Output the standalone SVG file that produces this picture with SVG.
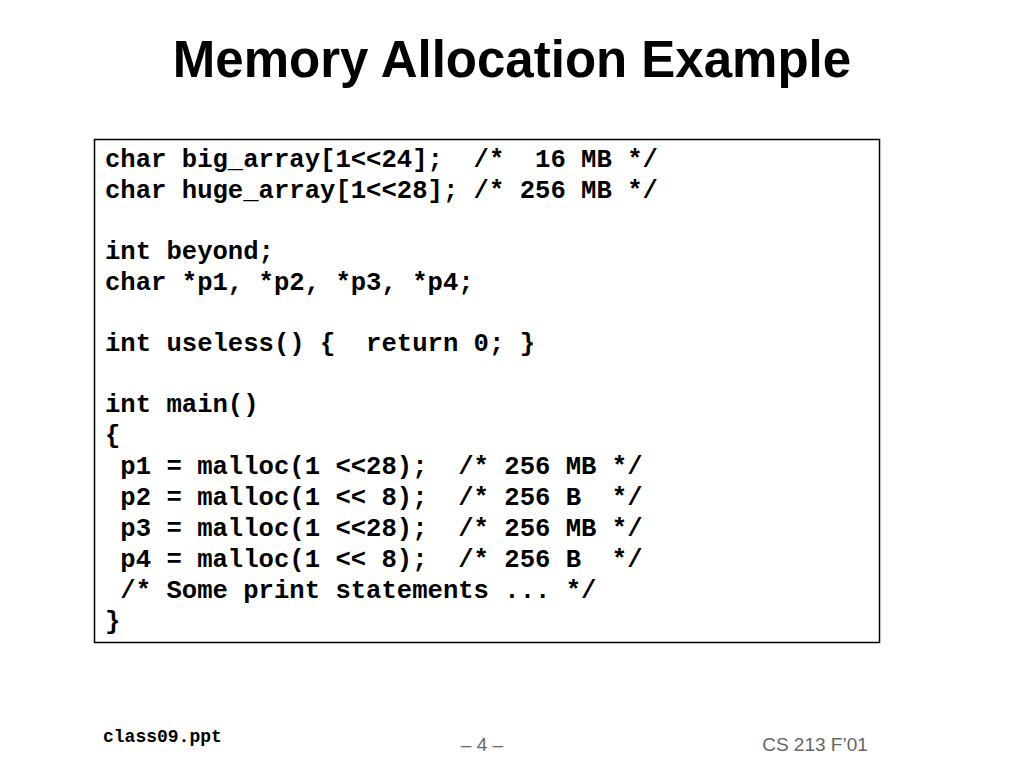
<svg xmlns="http://www.w3.org/2000/svg" width="1024" height="768" viewBox="0 0 1024 768">
<style>
.code text{font-family:"Liberation Mono",monospace;font-weight:bold;font-size:25.6px;fill:#000;white-space:pre}
.foot{font-family:"Liberation Sans",sans-serif;font-size:19px;fill:#666}
</style>
<rect width="1024" height="768" fill="#fff"/>
<text x="512" y="77" text-anchor="middle" font-family="Liberation Sans,sans-serif" font-weight="bold" font-size="51" fill="#000">Memory Allocation Example</text>
<rect x="94.5" y="139.5" width="785" height="503" fill="#fff" stroke="#000" stroke-width="1.5"/>
<g class="code">
<text xml:space="preserve" x="105" y="167">char big_array[1&lt;&lt;24];  /*  16 MB */</text>
<text xml:space="preserve" x="105" y="198">char huge_array[1&lt;&lt;28]; /* 256 MB */</text>
<text xml:space="preserve" x="105" y="259">int beyond;</text>
<text xml:space="preserve" x="105" y="290">char *p1, *p2, *p3, *p4;</text>
<text xml:space="preserve" x="105" y="351">int useless() {  return 0; }</text>
<text xml:space="preserve" x="105" y="412">int main()</text>
<text xml:space="preserve" x="105" y="443">{</text>
<text xml:space="preserve" x="105" y="474"> p1 = malloc(1 &lt;&lt;28);  /* 256 MB */</text>
<text xml:space="preserve" x="105" y="505"> p2 = malloc(1 &lt;&lt; 8);  /* 256 B  */</text>
<text xml:space="preserve" x="105" y="536"> p3 = malloc(1 &lt;&lt;28);  /* 256 MB */</text>
<text xml:space="preserve" x="105" y="567"> p4 = malloc(1 &lt;&lt; 8);  /* 256 B  */</text>
<text xml:space="preserve" x="105" y="598"> /* Some print statements ... */</text>
<text xml:space="preserve" x="105" y="629">}</text>
</g>
<text x="103" y="742" font-family="Liberation Mono,monospace" font-weight="bold" font-size="18" fill="#000">class09.ppt</text>
<text x="482" y="751" text-anchor="middle" class="foot">– 4 –</text>
<text x="815" y="751" text-anchor="middle" class="foot">CS 213 F’01</text>
</svg>
